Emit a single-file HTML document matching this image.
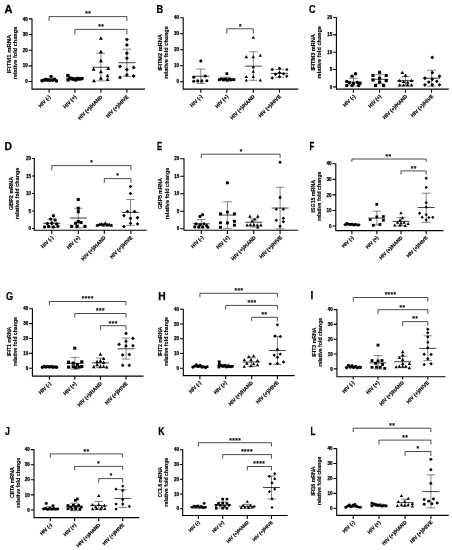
<!DOCTYPE html>
<html lang="en"><head><meta charset="utf-8"><title>Figure</title>
<style>
html,body{margin:0;padding:0;background:#fff;}
body{width:452px;height:550px;overflow:hidden;}
svg{display:block;font-family:"Liberation Sans",sans-serif;font-weight:bold;fill:#000;}
.pl{stroke:#000;stroke-width:0.25px;}
.tk{font-size:4.5px;text-anchor:end;stroke:#000;stroke-width:0.25px;}
.yl{text-anchor:middle;stroke:#000;stroke-width:0.15px;}
.xl{text-anchor:end;stroke:#000;stroke-width:0.2px;}
.st{font-size:6.5px;text-anchor:middle;stroke:#000;stroke-width:0.14px;letter-spacing:0.45px;}
.ax{fill:none;stroke:#000;stroke-width:1.1;}
.eb{fill:none;stroke:#333;stroke-width:0.6;}
.mn{fill:none;stroke:#000;stroke-width:0.75;}
.br{fill:none;stroke:#000;stroke-width:0.7;}
</style></head><body>
<svg width="452" height="550" viewBox="0 0 452 550">
<rect x="0" y="0" width="452" height="550" fill="#fff"/>
<g>
<text class="pl" font-size="10.3" transform="translate(4.4 13) scale(1.07 1)">A</text>
<text class="tk" x="27.8" y="83.1">0</text>
<text class="tk" x="27.8" y="67.45">10</text>
<text class="tk" x="27.8" y="51.8">20</text>
<text class="tk" x="27.8" y="36.15">30</text>
<text class="tk" x="27.8" y="20.5">40</text>
<path class="ax" d="M32 18.5V89.1H145M28.7 81.5H32M28.7 65.85H32M28.7 50.2H32M28.7 34.55H32M28.7 18.9H32M49.1 89.1V92.7M74.9 89.1V92.7M100.9 89.1V92.7M126.9 89.1V92.7"/>
<text class="yl" font-size="5.95" transform="translate(10.8 54) rotate(-90)">IFITM1 mRNA</text>
<text class="yl" font-size="5.6" transform="translate(17 53) rotate(-90)">relative fold change</text>
<text class="xl" font-size="5.1" transform="translate(51 97.3) rotate(-45)">HIV (-)</text>
<text class="xl" font-size="5.1" transform="translate(76.8 97.3) rotate(-45)">HIV (+)</text>
<text class="xl" font-size="5.1" transform="translate(102.8 97.3) rotate(-45)">HIV (+)/HAND</text>
<text class="xl" font-size="5.1" transform="translate(128.8 97.3) rotate(-45)">HIV (+)/HIVE</text>
<path class="eb" d="M49.1 78.37V81.19M44.8 78.37H53.4M44.8 81.19H53.4"/>
<path class="mn" d="M40.6 79.78H57.6"/>
<circle cx="42.1" cy="80.87" r="1.8"/><circle cx="43.9" cy="80.09" r="1.8"/><circle cx="45.7" cy="79.62" r="1.8"/><circle cx="47.6" cy="79.94" r="1.8"/><circle cx="49.6" cy="80.4" r="1.8"/><circle cx="51.1" cy="76.49" r="1.8"/><circle cx="52.9" cy="80.09" r="1.8"/><circle cx="54.6" cy="79.31" r="1.8"/><circle cx="56.4" cy="81.03" r="1.8"/>
<path class="eb" d="M74.9 77.27V80.09M70.6 77.27H79.2M70.6 80.09H79.2"/>
<path class="mn" d="M66.4 78.68H83.4"/>
<rect x="66.25" y="73.9" width="3.3" height="3.3"/><rect x="66.45" y="78.28" width="3.3" height="3.3"/><rect x="68.25" y="76.41" width="3.3" height="3.3"/><rect x="70.25" y="77.03" width="3.3" height="3.3"/><rect x="72.25" y="77.5" width="3.3" height="3.3"/><rect x="74.25" y="78.28" width="3.3" height="3.3"/><rect x="76.25" y="76.88" width="3.3" height="3.3"/><rect x="78.25" y="77.35" width="3.3" height="3.3"/><rect x="80.25" y="76.88" width="3.3" height="3.3"/>
<path class="eb" d="M100.9 53.33V80.87M96.6 53.33H105.2M96.6 80.87H105.2"/>
<path class="mn" d="M92.4 67.26H109.4"/>
<path d="M100.9 36.21L102.9 39.81L98.9 39.81Z"/><path d="M100.9 49.66L102.9 53.27L98.9 53.27Z"/><path d="M100.9 58.74L102.9 62.34L98.9 62.34Z"/><path d="M93.6 67.04L95.6 70.64L91.6 70.64Z"/><path d="M108.2 66.41L110.2 70.01L106.2 70.01Z"/><path d="M100.9 69.7L102.9 73.3L98.9 73.3Z"/><path d="M107.6 73.77L109.6 77.37L105.6 77.37Z"/><path d="M100.9 76.11L102.9 79.71L98.9 79.71Z"/><path d="M94 78.77L96 82.37L92 82.37Z"/><path d="M107.6 77.37L109.6 80.97L105.6 80.97Z"/>
<path class="eb" d="M126.9 49.1V76.34M122.6 49.1H131.2M122.6 76.34H131.2"/>
<path class="mn" d="M118.4 62.72H135.4"/>
<path d="M126.9 37.56L128.9 39.56L126.9 41.56L124.9 39.56Z"/><path d="M126.9 42.88L128.9 44.88L126.9 46.88L124.9 44.88Z"/><path d="M126.9 51.17L128.9 53.17L126.9 55.17L124.9 53.17Z"/><path d="M126.9 56.18L128.9 58.18L126.9 60.18L124.9 58.18Z"/><path d="M120 64.48L122 66.48L120 68.48L118 66.48Z"/><path d="M133.6 65.57L135.6 67.57L133.6 69.57L131.6 67.57Z"/><path d="M126.9 67.61L128.9 69.61L126.9 71.61L124.9 69.61Z"/><path d="M126.9 72.93L128.9 74.93L126.9 76.93L124.9 74.93Z"/><path d="M120 75.59L122 77.59L120 79.59L118 77.59Z"/><path d="M133.6 74.02L135.6 76.02L133.6 78.02L131.6 76.02Z"/>
<path class="br" d="M49.1 21V16.6H126.9V21"/>
<text class="st" x="88.2" y="16.45">**</text>
<path class="br" d="M74.9 34.4V29.4H126.9V34.4"/>
<text class="st" x="101.2" y="29.25">**</text>
</g>
<g>
<text class="pl" font-size="10.3" transform="translate(156.6 13) scale(0.9 1)">B</text>
<text class="tk" x="179" y="83.3">0</text>
<text class="tk" x="179" y="67.3">10</text>
<text class="tk" x="179" y="51.3">20</text>
<text class="tk" x="179" y="35.3">30</text>
<text class="tk" x="179" y="19.3">40</text>
<path class="ax" d="M183.2 17.3V89.1H298.3M179.9 81.7H183.2M179.9 65.7H183.2M179.9 49.7H183.2M179.9 33.7H183.2M179.9 17.7H183.2M200.8 89.1V92.7M226.8 89.1V92.7M253.3 89.1V92.7M279.5 89.1V92.7"/>
<text class="yl" font-size="5.6" transform="translate(162 52.4) rotate(-90)">IFITM2 mRNA</text>
<text class="yl" font-size="5.6" transform="translate(168.2 52.4) rotate(-90)">relative fold change</text>
<text class="xl" font-size="5.1" transform="translate(202.7 96.9) rotate(-45)">HIV (-)</text>
<text class="xl" font-size="5.1" transform="translate(228.7 96.9) rotate(-45)">HIV (+)</text>
<text class="xl" font-size="5.1" transform="translate(255.2 96.9) rotate(-45)">HIV (+)/HAND</text>
<text class="xl" font-size="5.1" transform="translate(281.4 96.9) rotate(-45)">HIV (+)/HIVE</text>
<path class="eb" d="M200.8 69.06V83.46M196.5 69.06H205.1M196.5 83.46H205.1"/>
<path class="mn" d="M192.3 76.26H209.3"/>
<circle cx="200.8" cy="60.9" r="1.55"/><circle cx="193.8" cy="77.22" r="1.55"/><circle cx="205.3" cy="75.94" r="1.55"/><circle cx="197.8" cy="80.9" r="1.55"/><circle cx="193.8" cy="81.22" r="1.55"/><circle cx="201.8" cy="80.9" r="1.55"/><circle cx="206.8" cy="80.74" r="1.55"/>
<path class="eb" d="M226.8 77.22V81.06M222.5 77.22H231.1M222.5 81.06H231.1"/>
<path class="mn" d="M218.3 79.14H235.3"/>
<rect x="225.38" y="72.28" width="2.84" height="2.84"/><rect x="217.88" y="78.36" width="2.84" height="2.84"/><rect x="219.88" y="77.4" width="2.84" height="2.84"/><rect x="221.88" y="78.36" width="2.84" height="2.84"/><rect x="223.88" y="77.72" width="2.84" height="2.84"/><rect x="225.88" y="78.68" width="2.84" height="2.84"/><rect x="227.88" y="77.88" width="2.84" height="2.84"/><rect x="229.88" y="78.36" width="2.84" height="2.84"/><rect x="232.38" y="78.2" width="2.84" height="2.84"/>
<path class="eb" d="M253.3 51.78V80.26M249 51.78H257.6M249 80.26H257.6"/>
<path class="mn" d="M244.8 66.18H261.8"/>
<path d="M253.3 35.73L255.02 38.83L251.58 38.83Z"/><path d="M246.3 55.09L248.02 58.19L244.58 58.19Z"/><path d="M260.3 53.65L262.02 56.75L258.58 56.75Z"/><path d="M253.3 55.09L255.02 58.19L251.58 58.19Z"/><path d="M253.3 65.17L255.02 68.27L251.58 68.27Z"/><path d="M253.3 69.65L255.02 72.75L251.58 72.75Z"/><path d="M246.3 74.93L248.02 78.03L244.58 78.03Z"/><path d="M253.3 74.93L255.02 78.03L251.58 78.03Z"/><path d="M246.3 78.45L248.02 81.55L244.58 81.55Z"/><path d="M260.3 78.45L262.02 81.55L258.58 81.55Z"/>
<path class="eb" d="M279.5 69.54V77.22M275.2 69.54H283.8M275.2 77.22H283.8"/>
<path class="mn" d="M271 73.38H288"/>
<path d="M279.5 66.54L281.22 68.26L279.5 69.98L277.78 68.26Z"/><path d="M272.2 67.82L273.92 69.54L272.2 71.26L270.48 69.54Z"/><path d="M286.8 67.82L288.52 69.54L286.8 71.26L285.08 69.54Z"/><path d="M275.5 72.46L277.22 74.18L275.5 75.9L273.78 74.18Z"/><path d="M283.5 71.98L285.22 73.7L283.5 75.42L281.78 73.7Z"/><path d="M279.5 71.02L281.22 72.74L279.5 74.46L277.78 72.74Z"/><path d="M272.2 76.3L273.92 78.02L272.2 79.74L270.48 78.02Z"/><path d="M279.5 75.02L281.22 76.74L279.5 78.46L277.78 76.74Z"/><path d="M286.8 74.54L288.52 76.26L286.8 77.98L285.08 76.26Z"/>
<path class="br" d="M226.8 33.6V28.8H253.3V33.6"/>
<text class="st" x="240.4" y="28.65">*</text>
</g>
<g>
<text class="pl" font-size="10.3" transform="translate(309 13) scale(0.88 1)">C</text>
<text class="tk" x="332.2" y="88.5">0</text>
<text class="tk" x="332.2" y="71.15">5</text>
<text class="tk" x="332.2" y="53.8">10</text>
<text class="tk" x="332.2" y="36.45">15</text>
<text class="tk" x="332.2" y="19.1">20</text>
<path class="ax" d="M336.4 17.1V89.1H448.8M333.1 86.9H336.4M333.1 69.55H336.4M333.1 52.2H336.4M333.1 34.85H336.4M333.1 17.5H336.4M353.4 89.1V92.7M379.6 89.1V92.7M405.5 89.1V92.7M431.5 89.1V92.7"/>
<text class="yl" font-size="5.6" transform="translate(315.2 52.3) rotate(-90)">IFITM3 mRNA</text>
<text class="yl" font-size="5.6" transform="translate(321.4 52.3) rotate(-90)">relative fold change</text>
<text class="xl" font-size="5.1" transform="translate(355.6 96.7) rotate(-45)">HIV (-)</text>
<text class="xl" font-size="5.1" transform="translate(381.8 96.7) rotate(-45)">HIV (+)</text>
<text class="xl" font-size="5.1" transform="translate(407.7 96.7) rotate(-45)">HIV (+)/HAND</text>
<text class="xl" font-size="5.1" transform="translate(433.7 96.7) rotate(-45)">HIV (+)/HIVE</text>
<path class="eb" d="M353.4 78.23V85.86M349.1 78.23H357.7M349.1 85.86H357.7"/>
<path class="mn" d="M344.9 82.04H361.9"/>
<circle cx="355.5" cy="73.71" r="1.71"/><circle cx="352.1" cy="76.14" r="1.71"/><circle cx="346.8" cy="81.35" r="1.71"/><circle cx="349.4" cy="82.74" r="1.71"/><circle cx="353.4" cy="83.43" r="1.71"/><circle cx="357.4" cy="82.39" r="1.71"/><circle cx="360" cy="83.43" r="1.71"/><circle cx="346.8" cy="85.51" r="1.71"/><circle cx="352.1" cy="85.51" r="1.71"/><circle cx="358.7" cy="85.51" r="1.71"/>
<path class="eb" d="M379.6 74.76V83.78M375.3 74.76H383.9M375.3 83.78H383.9"/>
<path class="mn" d="M371.1 79.27H388.1"/>
<rect x="378.03" y="70.76" width="3.13" height="3.13"/><rect x="371.43" y="73.88" width="3.13" height="3.13"/><rect x="384.63" y="73.88" width="3.13" height="3.13"/><rect x="378.03" y="76.66" width="3.13" height="3.13"/><rect x="371.43" y="78.39" width="3.13" height="3.13"/><rect x="384.63" y="79.09" width="3.13" height="3.13"/><rect x="378.03" y="80.47" width="3.13" height="3.13"/><rect x="374.03" y="83.94" width="3.13" height="3.13"/><rect x="382.03" y="83.94" width="3.13" height="3.13"/>
<path class="eb" d="M405.5 76.49V85.17M401.2 76.49H409.8M401.2 85.17H409.8"/>
<path class="mn" d="M397 80.65H414"/>
<path d="M402.3 70.68L404.2 74.1L400.4 74.1Z"/><path d="M405.5 73.45L407.4 76.87L403.6 76.87Z"/><path d="M399.7 78.66L401.6 82.08L397.8 82.08Z"/><path d="M411.5 78.66L413.4 82.08L409.6 82.08Z"/><path d="M403.6 79.7L405.5 83.12L401.7 83.12Z"/><path d="M407.6 80.39L409.5 83.81L405.7 83.81Z"/><path d="M399.7 83.17L401.6 86.59L397.8 86.59Z"/><path d="M403.6 83.17L405.5 86.59L401.7 86.59Z"/><path d="M407.6 83.17L409.5 86.59L405.7 86.59Z"/><path d="M411.5 83.17L413.4 86.59L409.6 86.59Z"/>
<path class="eb" d="M431.5 70.24V86.21M427.2 70.24H435.8M427.2 86.21H435.8"/>
<path class="mn" d="M423 78.23H440"/>
<path d="M432.3 55.51L434.2 57.41L432.3 59.3L430.4 57.41Z"/><path d="M432.3 70.77L434.2 72.67L432.3 74.57L430.4 72.67Z"/><path d="M439.5 74.24L441.4 76.14L439.5 78.04L437.6 76.14Z"/><path d="M424.9 76.33L426.8 78.23L424.9 80.13L423 78.23Z"/><path d="M432.3 77.37L434.2 79.27L432.3 81.17L430.4 79.27Z"/><path d="M436.8 79.45L438.7 81.35L436.8 83.25L434.9 81.35Z"/><path d="M428.8 80.14L430.7 82.04L428.8 83.94L426.9 82.04Z"/><path d="M424.9 82.92L426.8 84.82L424.9 86.72L423 84.82Z"/><path d="M432.3 82.92L434.2 84.82L432.3 86.72L430.4 84.82Z"/><path d="M439.5 82.92L441.4 84.82L439.5 86.72L437.6 84.82Z"/>
</g>
<g>
<text class="pl" font-size="10.3" transform="translate(4.6 150.2) scale(1 1)">D</text>
<text class="tk" x="31" y="230.1">0</text>
<text class="tk" x="31" y="212.6">5</text>
<text class="tk" x="31" y="195.1">10</text>
<text class="tk" x="31" y="177.6">15</text>
<text class="tk" x="31" y="160.1">20</text>
<path class="ax" d="M34.3 158.1V230.3H146.8M31.9 228.5H34.3M31.9 211H34.3M31.9 193.5H34.3M31.9 176H34.3M31.9 158.5H34.3M51.8 230.3V233.9M78.3 230.3V233.9M104.3 230.3V233.9M130.9 230.3V233.9"/>
<text class="yl" font-size="5.5" transform="translate(13.1 193.4) rotate(-90)">GBP2 mRNA</text>
<text class="yl" font-size="5.5" transform="translate(19.3 193.4) rotate(-90)">relative fold change</text>
<text class="xl" font-size="5.1" transform="translate(53.7 238) rotate(-45)">HIV (-)</text>
<text class="xl" font-size="5.1" transform="translate(80.2 238) rotate(-45)">HIV (+)</text>
<text class="xl" font-size="5.1" transform="translate(106.2 238) rotate(-45)">HIV (+)/HAND</text>
<text class="xl" font-size="5.1" transform="translate(132.8 238) rotate(-45)">HIV (+)/HIVE</text>
<path class="eb" d="M51.8 219.05V227.45M47.5 219.05H56.1M47.5 227.45H56.1"/>
<path class="mn" d="M43.3 223.25H60.3"/>
<circle cx="53.4" cy="215.72" r="1.67"/><circle cx="50.7" cy="219.05" r="1.67"/><circle cx="55.2" cy="220.1" r="1.67"/><circle cx="47.3" cy="223.6" r="1.67"/><circle cx="51.8" cy="223.25" r="1.67"/><circle cx="56.6" cy="223.95" r="1.67"/><circle cx="44.6" cy="226.93" r="1.67"/><circle cx="48.6" cy="226.4" r="1.67"/><circle cx="53.4" cy="226.93" r="1.67"/><circle cx="57.9" cy="226.4" r="1.67"/>
<path class="eb" d="M78.3 208.2V227.8M74 208.2H82.6M74 227.8H82.6"/>
<path class="mn" d="M69.8 218H86.8"/>
<rect x="76.77" y="197.92" width="3.07" height="3.07"/><rect x="76.77" y="206.67" width="3.07" height="3.07"/><rect x="76.77" y="210.17" width="3.07" height="3.07"/><rect x="74.07" y="221.72" width="3.07" height="3.07"/><rect x="79.47" y="221.02" width="3.07" height="3.07"/><rect x="76.77" y="219.97" width="3.07" height="3.07"/><rect x="70.17" y="224.87" width="3.07" height="3.07"/><rect x="75.47" y="224.87" width="3.07" height="3.07"/><rect x="83.37" y="224.87" width="3.07" height="3.07"/>
<path class="eb" d="M104.3 223.6V225.7M100 223.6H108.6M100 225.7H108.6"/>
<path class="mn" d="M95.8 224.65H112.8"/>
<path d="M97.3 223.4L99.16 226.75L95.44 226.75Z"/><path d="M99.3 222.7L101.16 226.05L97.44 226.05Z"/><path d="M101.3 222L103.16 225.34L99.44 225.34Z"/><path d="M103.3 223.05L105.16 226.4L101.44 226.4Z"/><path d="M105.3 221.3L107.16 224.65L103.44 224.65Z"/><path d="M107.3 223.05L109.16 226.4L105.44 226.4Z"/><path d="M109.3 222.7L111.16 226.05L107.44 226.05Z"/><path d="M111.3 223.4L113.16 226.75L109.44 226.75Z"/>
<path class="eb" d="M130.5 199.45V225.35M126.2 199.45H134.8M126.2 225.35H134.8"/>
<path class="mn" d="M122 212.4H139"/>
<path d="M130.5 184.64L132.36 186.5L130.5 188.36L128.64 186.5Z"/><path d="M130.5 191.64L132.36 193.5L130.5 195.36L128.64 193.5Z"/><path d="M127.5 209.63L129.36 211.49L127.5 213.35L125.64 211.49Z"/><path d="M134.5 209.63L136.36 211.49L134.5 213.35L132.64 211.49Z"/><path d="M123.9 213.69L125.76 215.55L123.9 217.41L122.04 215.55Z"/><path d="M130.5 216.49L132.36 218.35L130.5 220.21L128.64 218.35Z"/><path d="M137.5 215.79L139.36 217.65L137.5 219.51L135.64 217.65Z"/><path d="M130.5 221.39L132.36 223.25L130.5 225.11L128.64 223.25Z"/><path d="M137.5 222.09L139.36 223.95L137.5 225.81L135.64 223.95Z"/><path d="M123.9 224.64L125.76 226.5L123.9 228.37L122.04 226.5Z"/>
<path class="br" d="M51.8 170.2V165.6H130.9V170.2"/>
<text class="st" x="91.8" y="165.45">*</text>
<path class="br" d="M104.3 183V178.6H130.9V183"/>
<text class="st" x="117.8" y="178.45">*</text>
</g>
<g>
<text class="pl" font-size="10.3" transform="translate(157 150.2) scale(0.76 1)">E</text>
<text class="tk" x="179.2" y="230.3">0</text>
<text class="tk" x="179.2" y="212.8">5</text>
<text class="tk" x="179.2" y="195.3">10</text>
<text class="tk" x="179.2" y="177.8">15</text>
<text class="tk" x="179.2" y="160.3">20</text>
<path class="ax" d="M184 158.3V230.3H298.2M180.1 228.7H184M180.1 211.2H184M180.1 193.7H184M180.1 176.2H184M180.1 158.7H184M201.3 230.3V233.9M227.4 230.3V233.9M253.8 230.3V233.9M280.1 230.3V233.9"/>
<text class="yl" font-size="5.1" transform="translate(161.6 193.5) rotate(-90)">GBP5 mRNA</text>
<text class="yl" font-size="5.5" transform="translate(169 193.5) rotate(-90)">relative fold change</text>
<text class="xl" font-size="5.1" transform="translate(203.7 237.8) rotate(-45)">HIV (-)</text>
<text class="xl" font-size="5.1" transform="translate(229.8 237.8) rotate(-45)">HIV (+)</text>
<text class="xl" font-size="5.1" transform="translate(256.2 237.8) rotate(-45)">HIV (+)/HAND</text>
<text class="xl" font-size="5.1" transform="translate(282.5 237.8) rotate(-45)">HIV (+)/HIVE</text>
<path class="eb" d="M201.3 219.6V228M197 219.6H205.6M197 228H205.6"/>
<path class="mn" d="M192.8 223.8H209.8"/>
<circle cx="202.6" cy="214.7" r="1.58"/><circle cx="200" cy="216.45" r="1.58"/><circle cx="196" cy="223.8" r="1.58"/><circle cx="200" cy="224.85" r="1.58"/><circle cx="204" cy="223.8" r="1.58"/><circle cx="206.6" cy="225.55" r="1.58"/><circle cx="194.7" cy="226.95" r="1.58"/><circle cx="198.6" cy="226.95" r="1.58"/><circle cx="202.6" cy="226.95" r="1.58"/><circle cx="207.9" cy="227.3" r="1.58"/>
<path class="eb" d="M227.4 201.75V228.35M223.1 201.75H231.7M223.1 228.35H231.7"/>
<path class="mn" d="M218.9 215.05H235.9"/>
<rect x="225.95" y="181.4" width="2.9" height="2.9"/><rect x="225.95" y="210.62" width="2.9" height="2.9"/><rect x="219.05" y="212.37" width="2.9" height="2.9"/><rect x="232.95" y="212.37" width="2.9" height="2.9"/><rect x="219.05" y="221.3" width="2.9" height="2.9"/><rect x="225.95" y="221.47" width="2.9" height="2.9"/><rect x="232.95" y="219.9" width="2.9" height="2.9"/><rect x="219.05" y="225.85" width="2.9" height="2.9"/><rect x="232.95" y="223.75" width="2.9" height="2.9"/>
<path class="eb" d="M253.8 218.72V226.95M249.5 218.72H258.1M249.5 226.95H258.1"/>
<path class="mn" d="M245.3 222.22H262.3"/>
<path d="M249.9 214.6L251.66 217.77L248.14 217.77Z"/><path d="M257.8 214.6L259.56 217.77L256.04 217.77Z"/><path d="M254.8 217.4L256.56 220.57L253.04 220.57Z"/><path d="M252.1 219.15L253.86 222.32L250.34 222.32Z"/><path d="M247.1 223.35L248.86 226.52L245.34 226.52Z"/><path d="M250.4 223L252.16 226.17L248.64 226.17Z"/><path d="M253.8 223L255.56 226.17L252.04 226.17Z"/><path d="M257.4 223.35L259.16 226.52L255.64 226.52Z"/><path d="M260.8 223.35L262.56 226.52L259.04 226.52Z"/><path d="M257.8 225.45L259.56 228.62L256.04 228.62Z"/>
<path class="eb" d="M280.1 187.22V228.88M275.8 187.22H284.4M275.8 228.88H284.4"/>
<path class="mn" d="M271.6 208.05H288.6"/>
<path d="M280.1 160.44L281.86 162.2L280.1 163.96L278.34 162.2Z"/><path d="M280.1 195.62L281.86 197.38L280.1 199.13L278.34 197.38Z"/><path d="M276.3 207.55L278.06 209.31L276.3 211.07L274.54 209.31Z"/><path d="M283.4 207.55L285.16 209.31L283.4 211.07L281.64 209.31Z"/><path d="M276.3 218.54L278.06 220.3L276.3 222.06L274.54 220.3Z"/><path d="M283.4 216.44L285.16 218.2L283.4 219.96L281.64 218.2Z"/><path d="M283.4 219.94L285.16 221.7L283.4 223.46L281.64 221.7Z"/><path d="M280.1 224.56L281.86 226.32L280.1 228.08L278.34 226.32Z"/>
<path class="br" d="M201.3 158.2V154.2H280.1V158.2"/>
<text class="st" x="241.2" y="154.05">*</text>
</g>
<g>
<text class="pl" font-size="10.3" transform="translate(309.6 150.2) scale(0.76 1)">F</text>
<text class="tk" x="331.6" y="227.6">0</text>
<text class="tk" x="331.6" y="212.05">10</text>
<text class="tk" x="331.6" y="196.5">20</text>
<text class="tk" x="331.6" y="180.95">30</text>
<text class="tk" x="331.6" y="165.4">40</text>
<path class="ax" d="M335.8 163.4V230.6H443.4M332.5 226H335.8M332.5 210.45H335.8M332.5 194.9H335.8M332.5 179.35H335.8M332.5 163.8H335.8M351.9 230.6V234.2M376.8 230.6V234.2M401 230.6V234.2M426.2 230.6V234.2"/>
<text class="yl" font-size="5.25" transform="translate(314.6 196.2) rotate(-90)">ISG15 mRNA</text>
<text class="yl" font-size="5.25" transform="translate(320.8 196.2) rotate(-90)">relative fold change</text>
<text class="xl" font-size="4.8" transform="translate(353.8 238.1) rotate(-45)">HIV (-)</text>
<text class="xl" font-size="4.8" transform="translate(378.7 238.1) rotate(-45)">HIV (+)</text>
<text class="xl" font-size="4.8" transform="translate(402.9 238.1) rotate(-45)">HIV (+)/HAND</text>
<text class="xl" font-size="4.8" transform="translate(428.1 238.1) rotate(-45)">HIV (+)/HIVE</text>
<path class="eb" d="M351.9 224.13V225.07M347.6 224.13H356.2M347.6 225.07H356.2"/>
<path class="mn" d="M343.4 224.6H360.4"/>
<circle cx="345.4" cy="224.76" r="1.49"/><circle cx="346.9" cy="223.51" r="1.49"/><circle cx="348.6" cy="224.13" r="1.49"/><circle cx="350.3" cy="224.6" r="1.49"/><circle cx="351.9" cy="224.29" r="1.49"/><circle cx="353.7" cy="224.91" r="1.49"/><circle cx="355.4" cy="224.6" r="1.49"/><circle cx="357.1" cy="225.07" r="1.49"/><circle cx="358.7" cy="224.91" r="1.49"/>
<path class="eb" d="M376.8 211.23V224.91M372.5 211.23H381.1M372.5 224.91H381.1"/>
<path class="mn" d="M368.3 218.07H385.3"/>
<rect x="375.43" y="203.02" width="2.74" height="2.74"/><rect x="375.43" y="215.53" width="2.74" height="2.74"/><rect x="382.03" y="215.15" width="2.74" height="2.74"/><rect x="368.83" y="218.26" width="2.74" height="2.74"/><rect x="382.03" y="218.88" width="2.74" height="2.74"/><rect x="378.53" y="223.08" width="2.74" height="2.74"/><rect x="372.03" y="223.93" width="2.74" height="2.74"/>
<path class="eb" d="M401 217.6V225.69M396.7 217.6H405.3M396.7 225.69H405.3"/>
<path class="mn" d="M392.5 221.41H409.5"/>
<path d="M401 211.35L402.66 214.34L399.34 214.34Z"/><path d="M402.5 216.33L404.16 219.31L400.84 219.31Z"/><path d="M399.9 218.58L401.56 221.57L398.24 221.57Z"/><path d="M397.6 220.84L399.26 223.82L395.94 223.82Z"/><path d="M401 221.61L402.66 224.6L399.34 224.6Z"/><path d="M404.1 220.84L405.76 223.82L402.44 223.82Z"/><path d="M408.1 222.08L409.76 225.07L406.44 225.07Z"/><path d="M394.8 223.53L396.46 226.51L393.14 226.51Z"/><path d="M399.9 223.48L401.56 226.47L398.24 226.47Z"/><path d="M405.3 223.95L406.96 226.93L403.64 226.93Z"/>
<path class="eb" d="M426.2 193.19V222.42M421.9 193.19H430.5M421.9 222.42H430.5"/>
<path class="mn" d="M417.7 207.5H434.7"/>
<path d="M426.2 176.6L427.86 178.26L426.2 179.92L424.54 178.26Z"/><path d="M426.2 185.78L427.86 187.44L426.2 189.1L424.54 187.44Z"/><path d="M426.2 201.02L427.86 202.68L426.2 204.34L424.54 202.68Z"/><path d="M426.2 205.52L427.86 207.18L426.2 208.84L424.54 207.18Z"/><path d="M419.6 211.59L421.26 213.25L419.6 214.91L417.94 213.25Z"/><path d="M426.2 212.99L427.86 214.65L426.2 216.31L424.54 214.65Z"/><path d="M422.2 215.63L423.86 217.29L422.2 218.95L420.54 217.29Z"/><path d="M428.9 215.94L430.56 217.6L428.9 219.26L427.24 217.6Z"/><path d="M432.8 215.63L434.46 217.29L432.8 218.95L431.14 217.29Z"/><path d="M426.2 218.28L427.86 219.94L426.2 221.6L424.54 219.94Z"/>
<path class="br" d="M351.9 161.8V159H426.2V161.8"/>
<text class="st" x="388.5" y="158.85">**</text>
<path class="br" d="M401 174.5V170.9H426.2V174.5"/>
<text class="st" x="413.7" y="170.75">**</text>
</g>
<g>
<text class="pl" font-size="10.3" transform="translate(6 299.7) scale(0.9 1)">G</text>
<text class="tk" x="28.2" y="369.9">0</text>
<text class="tk" x="28.2" y="355">10</text>
<text class="tk" x="28.2" y="340.1">20</text>
<text class="tk" x="28.2" y="325.2">30</text>
<text class="tk" x="28.2" y="310.3">40</text>
<path class="ax" d="M32.4 308.3V376.1H143.5M29.1 368.3H32.4M29.1 353.4H32.4M29.1 338.5H32.4M29.1 323.6H32.4M29.1 308.7H32.4M49.4 376.1V379.7M74.8 376.1V379.7M100.4 376.1V379.7M126 376.1V379.7"/>
<text class="yl" font-size="5.2" transform="translate(11.2 341.4) rotate(-90)">IFIT1 mRNA</text>
<text class="yl" font-size="5.2" transform="translate(17.4 341.4) rotate(-90)">relative fold change</text>
<text class="xl" font-size="5.1" transform="translate(51.4 384) rotate(-45)">HIV (-)</text>
<text class="xl" font-size="5.1" transform="translate(76.8 384) rotate(-45)">HIV (+)</text>
<text class="xl" font-size="5.1" transform="translate(102.4 384) rotate(-45)">HIV (+)/HAND</text>
<text class="xl" font-size="5.1" transform="translate(128 384) rotate(-45)">HIV (+)/HIVE</text>
<path class="eb" d="M49.4 366.51V367.41M45.1 366.51H53.7M45.1 367.41H53.7"/>
<path class="mn" d="M40.9 366.96H57.9"/>
<circle cx="42.4" cy="367.26" r="1.67"/><circle cx="44.2" cy="366.51" r="1.67"/><circle cx="46" cy="366.96" r="1.67"/><circle cx="47.8" cy="366.36" r="1.67"/><circle cx="49.6" cy="367.11" r="1.67"/><circle cx="51.4" cy="366.51" r="1.67"/><circle cx="53.2" cy="367.26" r="1.67"/><circle cx="55" cy="366.81" r="1.67"/><circle cx="56.6" cy="367.26" r="1.67"/>
<path class="eb" d="M74.8 357.42V369.12M70.5 357.42H79.1M70.5 369.12H79.1"/>
<path class="mn" d="M66.3 363.38H83.3"/>
<rect x="73.27" y="346.65" width="3.07" height="3.07"/><rect x="67.07" y="360.66" width="3.07" height="3.07"/><rect x="80.27" y="360.28" width="3.07" height="3.07"/><rect x="71.67" y="361.63" width="3.07" height="3.07"/><rect x="75.87" y="362.89" width="3.07" height="3.07"/><rect x="67.07" y="365.57" width="3.07" height="3.07"/><rect x="71.67" y="365.2" width="3.07" height="3.07"/><rect x="74.37" y="366.02" width="3.07" height="3.07"/><rect x="77.67" y="365.57" width="3.07" height="3.07"/><rect x="80.27" y="364.98" width="3.07" height="3.07"/>
<path class="eb" d="M100.4 358.17V367.56M96.1 358.17H104.7M96.1 367.56H104.7"/>
<path class="mn" d="M91.9 362.86H108.9"/>
<path d="M100.4 352.34L102.26 355.69L98.54 355.69Z"/><path d="M103.6 356.66L105.46 360.01L101.74 360.01Z"/><path d="M97.1 359.79L98.96 363.14L95.24 363.14Z"/><path d="M100.4 359.05L102.26 362.39L98.54 362.39Z"/><path d="M103.6 360.54L105.46 363.88L101.74 363.88Z"/><path d="M93.8 364.86L95.66 368.2L91.94 368.2Z"/><path d="M97.1 362.92L98.96 366.27L95.24 366.27Z"/><path d="M100.4 364.86L102.26 368.2L98.54 368.2Z"/><path d="M103.6 364.41L105.46 367.76L101.74 367.76Z"/><path d="M106.7 365.16L108.56 368.5L104.84 368.5Z"/>
<path class="eb" d="M126 338.05V359.06M121.7 338.05H130.3M121.7 359.06H130.3"/>
<path class="mn" d="M117.5 348.78H134.5"/>
<path d="M126 331.57L127.86 333.43L126 335.29L124.14 333.43Z"/><path d="M132.9 336.57L134.76 338.43L132.9 340.29L131.04 338.43Z"/><path d="M126 339.47L127.86 341.33L126 343.19L124.14 341.33Z"/><path d="M119.1 342.6L120.96 344.46L119.1 346.32L117.24 344.46Z"/><path d="M126 344.09L127.86 345.95L126 347.81L124.14 345.95Z"/><path d="M132.9 343.79L134.76 345.65L132.9 347.51L131.04 345.65Z"/><path d="M122.7 353.1L124.56 354.96L122.7 356.82L120.84 354.96Z"/><path d="M129.3 352.66L131.16 354.52L129.3 356.38L127.44 354.52Z"/><path d="M122.7 363.46L124.56 365.32L122.7 367.18L120.84 365.32Z"/><path d="M129.3 363.46L131.16 365.32L129.3 367.18L127.44 365.32Z"/>
<path class="br" d="M49.4 305.4V301.5H126V305.4"/>
<text class="st" x="87.8" y="301.35">****</text>
<path class="br" d="M74.8 317.6V313.5H126V317.6"/>
<text class="st" x="100.6" y="313.35">***</text>
<path class="br" d="M100.4 329.8V325.7H126V329.8"/>
<text class="st" x="113.3" y="325.55">***</text>
</g>
<g>
<text class="pl" font-size="10.3" transform="translate(158.2 299.6) scale(1 1)">H</text>
<text class="tk" x="179.1" y="369.9">0</text>
<text class="tk" x="179.1" y="355.13">10</text>
<text class="tk" x="179.1" y="340.35">20</text>
<text class="tk" x="179.1" y="325.58">30</text>
<text class="tk" x="179.1" y="310.8">40</text>
<path class="ax" d="M183.3 308.8V375.6H294.6M180 368.3H183.3M180 353.53H183.3M180 338.75H183.3M180 323.98H183.3M180 309.2H183.3M199.9 375.6V379.2M225.7 375.6V379.2M251.7 375.6V379.2M277.4 375.6V379.2"/>
<text class="yl" font-size="5.2" transform="translate(161.8 341.4) rotate(-90)">IFIT2 mRNA</text>
<text class="yl" font-size="5.2" transform="translate(168 341.4) rotate(-90)">relative fold change</text>
<text class="xl" font-size="5.1" transform="translate(201.5 383.1) rotate(-45)">HIV (-)</text>
<text class="xl" font-size="5.1" transform="translate(227.3 383.1) rotate(-45)">HIV (+)</text>
<text class="xl" font-size="5.1" transform="translate(253.3 383.1) rotate(-45)">HIV (+)/HAND</text>
<text class="xl" font-size="5.1" transform="translate(279 383.1) rotate(-45)">HIV (+)/HIVE</text>
<path class="eb" d="M199.9 365.79V367.27M195.6 365.79H204.2M195.6 367.27H204.2"/>
<path class="mn" d="M191.4 366.53H208.4"/>
<circle cx="192.9" cy="367.12" r="1.55"/><circle cx="194.7" cy="366.08" r="1.55"/><circle cx="196.5" cy="364.9" r="1.55"/><circle cx="198.3" cy="366.53" r="1.55"/><circle cx="200.1" cy="365.35" r="1.55"/><circle cx="201.9" cy="367.12" r="1.55"/><circle cx="203.7" cy="366.82" r="1.55"/><circle cx="205.5" cy="367.41" r="1.55"/><circle cx="207.1" cy="366.82" r="1.55"/>
<path class="eb" d="M225.7 364.31V367.27M221.4 364.31H230M221.4 367.27H230"/>
<path class="mn" d="M217.2 365.79H234.2"/>
<rect x="217.78" y="360.38" width="2.84" height="2.84"/><rect x="217.98" y="363.04" width="2.84" height="2.84"/><rect x="219.78" y="364.22" width="2.84" height="2.84"/><rect x="221.58" y="364.81" width="2.84" height="2.84"/><rect x="223.38" y="364.22" width="2.84" height="2.84"/><rect x="225.18" y="365.4" width="2.84" height="2.84"/><rect x="226.98" y="364.81" width="2.84" height="2.84"/><rect x="228.78" y="365.26" width="2.84" height="2.84"/><rect x="230.78" y="364.96" width="2.84" height="2.84"/><rect x="217.48" y="365.55" width="2.84" height="2.84"/>
<path class="eb" d="M251.7 357.81V366.53M247.4 357.81H256M247.4 366.53H256"/>
<path class="mn" d="M243.2 362.09H260.2"/>
<path d="M248.8 354.97L250.52 358.07L247.08 358.07Z"/><path d="M253.6 354.23L255.32 357.33L251.88 357.33Z"/><path d="M244.3 358.07L246.02 361.17L242.58 361.17Z"/><path d="M250.9 358.07L252.62 361.17L249.18 361.17Z"/><path d="M257.5 358.81L259.22 361.91L255.78 361.91Z"/><path d="M246.9 361.62L248.62 364.71L245.18 364.71Z"/><path d="M253.6 362.21L255.32 365.31L251.88 365.31Z"/><path d="M244.3 364.72L246.02 367.82L242.58 367.82Z"/><path d="M250.9 364.13L252.62 367.23L249.18 367.23Z"/><path d="M257.5 363.1L259.22 366.19L255.78 366.19Z"/>
<path class="eb" d="M277.4 336.68V364.46M273.1 336.68H281.7M273.1 364.46H281.7"/>
<path class="mn" d="M268.9 350.57H285.9"/>
<path d="M277.4 323.14L279.12 324.86L277.4 326.58L275.68 324.86Z"/><path d="M275 334.37L276.72 336.09L275 337.81L273.28 336.09Z"/><path d="M280.3 334.81L282.02 336.53L280.3 338.25L278.58 336.53Z"/><path d="M277.4 347.67L279.12 349.39L277.4 351.11L275.68 349.39Z"/><path d="M274.2 353.43L275.92 355.15L274.2 356.87L272.48 355.15Z"/><path d="M280.3 352.4L282.02 354.12L280.3 355.84L278.58 354.12Z"/><path d="M277.4 355.65L279.12 357.37L277.4 359.09L275.68 357.37Z"/><path d="M270.2 362.15L271.92 363.87L270.2 365.59L268.48 363.87Z"/><path d="M277.4 361.7L279.12 363.42L277.4 365.14L275.68 363.42Z"/><path d="M283.5 360.37L285.22 362.09L283.5 363.81L281.78 362.09Z"/>
<path class="br" d="M199.9 297.2V293.3H277.4V297.2"/>
<text class="st" x="239.1" y="293.15">***</text>
<path class="br" d="M225.7 309.4V305.4H277.4V309.4"/>
<text class="st" x="251.9" y="305.25">***</text>
<path class="br" d="M251.7 321.2V317.3H277.4V321.2"/>
<text class="st" x="264.6" y="317.15">**</text>
</g>
<g>
<text class="pl" font-size="10.3" transform="translate(310.6 299.4) scale(1 1)">I</text>
<text class="tk" x="332.75" y="370.5">0</text>
<text class="tk" x="332.75" y="355.68">10</text>
<text class="tk" x="332.75" y="340.85">20</text>
<text class="tk" x="332.75" y="326.02">30</text>
<text class="tk" x="332.75" y="311.2">40</text>
<path class="ax" d="M336.95 309.2V376.7H445.5M333.65 368.9H336.95M333.65 354.07H336.95M333.65 339.25H336.95M333.65 324.42H336.95M333.65 309.6H336.95M353.2 376.7V379.5M378 376.7V379.5M402.7 376.7V379.5M427.8 376.7V379.5"/>
<text class="yl" font-size="5.2" transform="translate(315.75 342.15) rotate(-90)">IFIT3 mRNA</text>
<text class="yl" font-size="5.2" transform="translate(321.95 342.15) rotate(-90)">relative fold change</text>
<text class="xl" font-size="5.1" transform="translate(354.8 383) rotate(-45)">HIV (-)</text>
<text class="xl" font-size="5.1" transform="translate(379.6 383) rotate(-45)">HIV (+)</text>
<text class="xl" font-size="5.1" transform="translate(404.3 383) rotate(-45)">HIV (+)/HAND</text>
<text class="xl" font-size="5.1" transform="translate(429.4 383) rotate(-45)">HIV (+)/HIVE</text>
<path class="eb" d="M353.2 366.38V367.86M348.9 366.38H357.5M348.9 367.86H357.5"/>
<path class="mn" d="M344.7 367.12H361.7"/>
<circle cx="346.6" cy="367.71" r="1.55"/><circle cx="348.4" cy="365.34" r="1.55"/><circle cx="350.2" cy="367.12" r="1.55"/><circle cx="352" cy="365.64" r="1.55"/><circle cx="353.8" cy="367.57" r="1.55"/><circle cx="355.6" cy="366.23" r="1.55"/><circle cx="357.4" cy="367.86" r="1.55"/><circle cx="359.2" cy="367.12" r="1.55"/><circle cx="360.4" cy="367.42" r="1.55"/>
<path class="eb" d="M378 355.48V369.05M373.7 355.48H382.3M373.7 369.05H382.3"/>
<path class="mn" d="M369.5 362.9H386.5"/>
<rect x="376.58" y="343.69" width="2.84" height="2.84"/><rect x="370.58" y="359.18" width="2.84" height="2.84"/><rect x="376.58" y="359.48" width="2.84" height="2.84"/><rect x="380.58" y="359.18" width="2.84" height="2.84"/><rect x="374.18" y="361.85" width="2.84" height="2.84"/><rect x="381.18" y="363.03" width="2.84" height="2.84"/><rect x="370.58" y="365.85" width="2.84" height="2.84"/><rect x="375.08" y="365.7" width="2.84" height="2.84"/><rect x="378.78" y="365.85" width="2.84" height="2.84"/><rect x="383.28" y="366.96" width="2.84" height="2.84"/>
<path class="eb" d="M402.7 356.37V367.71M398.4 356.37H407M398.4 367.71H407"/>
<path class="mn" d="M394.2 361.78H411.2"/>
<path d="M402.7 350.05L404.42 353.14L400.98 353.14Z"/><path d="M402.7 353.31L404.42 356.4L400.98 356.4Z"/><path d="M399.4 355.98L401.12 359.07L397.68 359.07Z"/><path d="M402.7 357.83L404.42 360.92L400.98 360.92Z"/><path d="M402.7 361.83L404.42 364.93L400.98 364.93Z"/><path d="M409.4 361.83L411.12 364.93L407.68 364.93Z"/><path d="M396.2 365.17L397.92 368.26L394.48 368.26Z"/><path d="M399.4 364.57L401.12 367.67L397.68 367.67Z"/><path d="M402.7 364.57L404.42 367.67L400.98 367.67Z"/><path d="M405.8 364.57L407.52 367.67L404.08 367.67Z"/><path d="M409.4 366.06L411.12 369.15L407.68 369.15Z"/>
<path class="eb" d="M427.8 335.77V360.6M423.5 335.77H432.1M423.5 360.6H432.1"/>
<path class="mn" d="M419.3 348.37H436.3"/>
<path d="M427.8 327.45L429.52 329.17L427.8 330.89L426.08 329.17Z"/><path d="M427.8 331.01L429.52 332.73L427.8 334.45L426.08 332.73Z"/><path d="M427.8 335.16L429.52 336.88L427.8 338.6L426.08 336.88Z"/><path d="M427.8 340.64L429.52 342.36L427.8 344.08L426.08 342.36Z"/><path d="M427.8 346.13L429.52 347.85L427.8 349.57L426.08 347.85Z"/><path d="M424.2 352.5L425.92 354.22L424.2 355.94L422.48 354.22Z"/><path d="M431.1 352.8L432.82 354.52L431.1 356.24L429.38 354.52Z"/><path d="M427.8 356.95L429.52 358.67L427.8 360.39L426.08 358.67Z"/><path d="M424.2 362.88L425.92 364.6L424.2 366.32L422.48 364.6Z"/><path d="M431.1 361.99L432.82 363.71L431.1 365.43L429.38 363.71Z"/>
<path class="br" d="M353.2 301.4V297.5H427.8V301.4"/>
<text class="st" x="390.6" y="297.35">****</text>
<path class="br" d="M378 314V309.7H427.8V314"/>
<text class="st" x="402.5" y="309.55">**</text>
<path class="br" d="M402.7 325.7V321.6H427.8V325.7"/>
<text class="st" x="415.3" y="321.45">**</text>
</g>
<g>
<text class="pl" font-size="10.3" transform="translate(4.9 435) scale(0.85 1)">J</text>
<text class="tk" x="29.8" y="511.6">0</text>
<text class="tk" x="29.8" y="496.5">10</text>
<text class="tk" x="29.8" y="481.4">20</text>
<text class="tk" x="29.8" y="466.3">30</text>
<text class="tk" x="29.8" y="451.2">40</text>
<path class="ax" d="M34 449.2V517.6H139.3M30.7 510H34M30.7 494.9H34M30.7 479.8H34M30.7 464.7H34M30.7 449.6H34M50.3 517.6V521.2M74.6 517.6V521.2M98.7 517.6V521.2M122.7 517.6V521.2"/>
<text class="yl" font-size="5.3" transform="translate(13.8 482.6) rotate(-90)">CIITA mRNA</text>
<text class="yl" font-size="5.3" transform="translate(20 482.6) rotate(-90)">relative fold change</text>
<text class="xl" font-size="4.9" transform="translate(52.2 525.4) rotate(-45)">HIV (-)</text>
<text class="xl" font-size="4.9" transform="translate(76.5 525.4) rotate(-45)">HIV (+)</text>
<text class="xl" font-size="4.9" transform="translate(100.6 525.4) rotate(-45)">HIV (+)/HAND</text>
<text class="xl" font-size="4.9" transform="translate(124.6 525.4) rotate(-45)">HIV (+)/HIVE</text>
<path class="eb" d="M50.3 506.68V510.3M46 506.68H54.6M46 510.3H54.6"/>
<path class="mn" d="M41.8 508.49H58.8"/>
<circle cx="46.3" cy="503.51" r="1.49"/><circle cx="53" cy="505.62" r="1.49"/><circle cx="43.7" cy="509.09" r="1.49"/><circle cx="45.7" cy="508.49" r="1.49"/><circle cx="47.7" cy="509.25" r="1.49"/><circle cx="49.7" cy="508.19" r="1.49"/><circle cx="51.7" cy="509.09" r="1.49"/><circle cx="53.7" cy="508.49" r="1.49"/><circle cx="55.7" cy="509.25" r="1.49"/><circle cx="57.7" cy="509.09" r="1.49"/>
<path class="eb" d="M74.6 503.2V510.75M70.3 503.2H78.9M70.3 510.75H78.9"/>
<path class="mn" d="M66.1 506.98H83.1"/>
<rect x="75.93" y="497.61" width="2.74" height="2.74"/><rect x="74.03" y="498.97" width="2.74" height="2.74"/><rect x="66.63" y="504.1" width="2.74" height="2.74"/><rect x="69.23" y="505.61" width="2.74" height="2.74"/><rect x="71.93" y="503.8" width="2.74" height="2.74"/><rect x="74.53" y="505.31" width="2.74" height="2.74"/><rect x="77.23" y="504.1" width="2.74" height="2.74"/><rect x="79.83" y="505.61" width="2.74" height="2.74"/><rect x="66.63" y="507.42" width="2.74" height="2.74"/><rect x="70.53" y="507.72" width="2.74" height="2.74"/><rect x="74.53" y="507.42" width="2.74" height="2.74"/><rect x="78.53" y="508.03" width="2.74" height="2.74"/>
<path class="eb" d="M98.7 501.54V509.55M94.4 501.54H103M94.4 509.55H103"/>
<path class="mn" d="M90.2 505.62H107.2"/>
<path d="M98.7 493.91L100.36 496.9L97.04 496.9Z"/><path d="M92.6 503.12L94.26 506.11L90.94 506.11Z"/><path d="M98.7 503.12L100.36 506.11L97.04 506.11Z"/><path d="M104.5 503.73L106.16 506.72L102.84 506.72Z"/><path d="M92.6 507.35L94.26 510.34L90.94 510.34Z"/><path d="M96.7 507.05L98.36 510.04L95.04 510.04Z"/><path d="M100.7 507.35L102.36 510.34L99.04 510.34Z"/><path d="M104.8 507.05L106.46 510.04L103.14 510.04Z"/><path d="M95.7 505.24L97.36 508.23L94.04 508.23Z"/><path d="M101.7 505.39L103.36 508.38L100.04 508.38Z"/>
<path class="eb" d="M122.7 489.62V507.58M118.4 489.62H127M118.4 507.58H127"/>
<path class="mn" d="M114.2 498.45H131.2"/>
<path d="M122.7 484.48L124.36 486.14L122.7 487.8L121.04 486.14Z"/><path d="M116.1 487.5L117.76 489.16L116.1 490.82L114.44 489.16Z"/><path d="M122.7 488.86L124.36 490.52L122.7 492.18L121.04 490.52Z"/><path d="M122.7 497.92L124.36 499.58L122.7 501.24L121.04 499.58Z"/><path d="M116.1 502.38L117.76 504.04L116.1 505.7L114.44 504.04Z"/><path d="M122.7 502.38L124.36 504.04L122.7 505.7L121.04 504.04Z"/><path d="M129.3 504.72L130.96 506.38L129.3 508.04L127.64 506.38Z"/><path d="M116.1 507.43L117.76 509.09L116.1 510.75L114.44 509.09Z"/>
<path class="br" d="M50.3 457.7V453.9H122.7V457.7"/>
<text class="st" x="86.5" y="453.75">**</text>
<path class="br" d="M74.6 470.2V466.4H122.7V470.2"/>
<text class="st" x="98.7" y="466.25">*</text>
<path class="br" d="M98.7 482.6V478.6H122.7V482.6"/>
<text class="st" x="111.2" y="478.45">*</text>
</g>
<g>
<text class="pl" font-size="10.3" transform="translate(158.2 435.2) scale(0.85 1)">K</text>
<text class="tk" x="178.9" y="510.4">0</text>
<text class="tk" x="178.9" y="495.63">10</text>
<text class="tk" x="178.9" y="480.85">20</text>
<text class="tk" x="178.9" y="466.08">30</text>
<text class="tk" x="178.9" y="451.3">40</text>
<path class="ax" d="M182.7 449.3V515.5H287.6M179.8 508.8H182.7M179.8 494.03H182.7M179.8 479.25H182.7M179.8 464.48H182.7M179.8 449.7H182.7M198.4 515.5V519.1M222.7 515.5V519.1M247.3 515.5V519.1M271.5 515.5V519.1"/>
<text class="yl" font-size="5.2" transform="translate(161.5 482.1) rotate(-90)">CCL8 mRNA</text>
<text class="yl" font-size="5.2" transform="translate(167.7 482.1) rotate(-90)">relative fold change</text>
<text class="xl" font-size="4.6" transform="translate(200.1 522.7) rotate(-45)">HIV (-)</text>
<text class="xl" font-size="4.6" transform="translate(224.4 522.7) rotate(-45)">HIV (+)</text>
<text class="xl" font-size="4.6" transform="translate(249 522.7) rotate(-45)">HIV (+)/HAND</text>
<text class="xl" font-size="4.6" transform="translate(273.2 522.7) rotate(-45)">HIV (+)/HIVE</text>
<path class="eb" d="M198.4 505.55V508.21M194.1 505.55H202.7M194.1 508.21H202.7"/>
<path class="mn" d="M189.9 506.88H206.9"/>
<circle cx="204.2" cy="503.41" r="1.42"/><circle cx="192.3" cy="507.32" r="1.42"/><circle cx="194.1" cy="506.14" r="1.42"/><circle cx="195.9" cy="507.03" r="1.42"/><circle cx="197.7" cy="505.99" r="1.42"/><circle cx="199.5" cy="507.32" r="1.42"/><circle cx="201.3" cy="506.73" r="1.42"/><circle cx="203.1" cy="507.62" r="1.42"/><circle cx="205.2" cy="507.47" r="1.42"/>
<path class="eb" d="M222.7 502.15V508.06M218.4 502.15H227M218.4 508.06H227"/>
<path class="mn" d="M214.2 505.11H231.2"/>
<rect x="221.4" y="497.89" width="2.61" height="2.61"/><rect x="225.6" y="497.89" width="2.61" height="2.61"/><rect x="217.2" y="502.1" width="2.61" height="2.61"/><rect x="221.4" y="501.73" width="2.61" height="2.61"/><rect x="225.6" y="502.1" width="2.61" height="2.61"/><rect x="215" y="503.95" width="2.61" height="2.61"/><rect x="219" y="503.95" width="2.61" height="2.61"/><rect x="223.2" y="504.84" width="2.61" height="2.61"/><rect x="227.8" y="503.95" width="2.61" height="2.61"/><rect x="215" y="506.98" width="2.61" height="2.61"/><rect x="221.4" y="506.98" width="2.61" height="2.61"/><rect x="225.6" y="506.98" width="2.61" height="2.61"/>
<path class="eb" d="M247.3 504.37V508.06M243 504.37H251.6M243 508.06H251.6"/>
<path class="mn" d="M238.8 506.29H255.8"/>
<path d="M247.3 499.9L248.88 502.75L245.72 502.75Z"/><path d="M243.1 503.6L244.68 506.44L241.52 506.44Z"/><path d="M250.4 503.6L251.98 506.44L248.82 506.44Z"/><path d="M241.3 506.11L242.88 508.95L239.72 508.95Z"/><path d="M244.9 505.66L246.48 508.51L243.32 508.51Z"/><path d="M248.6 506.11L250.18 508.95L247.02 508.95Z"/><path d="M252.2 505.66L253.78 508.51L250.62 508.51Z"/><path d="M254 504.63L255.58 507.47L252.42 507.47Z"/>
<path class="eb" d="M271.5 476V499.05M267.2 476H275.8M267.2 499.05H275.8"/>
<path class="mn" d="M263 487.52H280"/>
<path d="M274.7 472.06L276.28 473.64L274.7 475.22L273.12 473.64Z"/><path d="M269.4 474.72L270.98 476.3L269.4 477.88L267.82 476.3Z"/><path d="M274.7 477.37L276.28 478.95L274.7 480.53L273.12 478.95Z"/><path d="M272 481.36L273.58 482.94L272 484.52L270.42 482.94Z"/><path d="M274.7 487.57L276.28 489.15L274.7 490.73L273.12 489.15Z"/><path d="M269.4 490.08L270.98 491.66L269.4 493.24L267.82 491.66Z"/><path d="M272 497.32L273.58 498.9L272 500.48L270.42 498.9Z"/><path d="M272 505.89L273.58 507.47L272 509.05L270.42 507.47Z"/>
<path class="br" d="M198.4 446.6V442.7H271.5V446.6"/>
<text class="st" x="235.2" y="442.55">****</text>
<path class="br" d="M222.7 458.6V454.6H271.5V458.6"/>
<text class="st" x="247.1" y="454.45">****</text>
<path class="br" d="M247.3 470.5V466.5H271.5V470.5"/>
<text class="st" x="259.3" y="466.35">****</text>
</g>
<g>
<text class="pl" font-size="10.3" transform="translate(310.6 434.8) scale(0.78 1)">L</text>
<text class="tk" x="332.5" y="509.9">0</text>
<text class="tk" x="332.5" y="494.98">10</text>
<text class="tk" x="332.5" y="480.05">20</text>
<text class="tk" x="332.5" y="465.13">30</text>
<text class="tk" x="332.5" y="450.2">40</text>
<path class="ax" d="M336.7 448.2V515.4H448.8M333.4 508.3H336.7M333.4 493.38H336.7M333.4 478.45H336.7M333.4 463.53H336.7M333.4 448.6H336.7M353.2 515.4V519M379 515.4V519M405.1 515.4V519M430.9 515.4V519"/>
<text class="yl" font-size="5.2" transform="translate(314.7 481) rotate(-90)">IFI16 mRNA</text>
<text class="yl" font-size="5.2" transform="translate(320.9 481) rotate(-90)">relative fold change</text>
<text class="xl" font-size="5.1" transform="translate(355.1 522.7) rotate(-45)">HIV (-)</text>
<text class="xl" font-size="5.1" transform="translate(380.9 522.7) rotate(-45)">HIV (+)</text>
<text class="xl" font-size="5.1" transform="translate(407 522.7) rotate(-45)">HIV (+)/HAND</text>
<text class="xl" font-size="5.1" transform="translate(432.8 522.7) rotate(-45)">HIV (+)/HIVE</text>
<path class="eb" d="M353.2 505.61V507.4M348.9 505.61H357.5M348.9 507.4H357.5"/>
<path class="mn" d="M344.7 506.51H361.7"/>
<circle cx="345.8" cy="507.4" r="1.46"/><circle cx="347.6" cy="506.21" r="1.46"/><circle cx="349.4" cy="505.02" r="1.46"/><circle cx="351.2" cy="506.81" r="1.46"/><circle cx="353" cy="505.31" r="1.46"/><circle cx="354.8" cy="504.42" r="1.46"/><circle cx="356.6" cy="506.21" r="1.46"/><circle cx="358.4" cy="507.11" r="1.46"/><circle cx="360.4" cy="507.4" r="1.46"/>
<path class="eb" d="M379 504.12V506.51M374.7 504.12H383.3M374.7 506.51H383.3"/>
<path class="mn" d="M370.5 505.31H387.5"/>
<rect x="370.66" y="501.89" width="2.67" height="2.67"/><rect x="370.66" y="504.58" width="2.67" height="2.67"/><rect x="372.66" y="502.78" width="2.67" height="2.67"/><rect x="374.66" y="503.38" width="2.67" height="2.67"/><rect x="376.66" y="503.98" width="2.67" height="2.67"/><rect x="378.66" y="503.68" width="2.67" height="2.67"/><rect x="380.66" y="504.87" width="2.67" height="2.67"/><rect x="382.66" y="504.28" width="2.67" height="2.67"/><rect x="384.66" y="504.58" width="2.67" height="2.67"/>
<path class="eb" d="M405.1 499.2V506.51M400.8 499.2H409.4M400.8 506.51H409.4"/>
<path class="mn" d="M396.6 502.63H413.6"/>
<path d="M401.5 494.06L403.12 496.98L399.88 496.98Z"/><path d="M408.2 496.75L409.82 499.66L406.58 499.66Z"/><path d="M398.4 499.88L400.02 502.8L396.78 502.8Z"/><path d="M404.7 499.73L406.32 502.65L403.08 502.65Z"/><path d="M397.4 504.06L399.02 506.98L395.78 506.98Z"/><path d="M401.5 503.02L403.12 505.93L399.88 505.93Z"/><path d="M404.7 503.61L406.32 506.53L403.08 506.53Z"/><path d="M408.2 503.02L409.82 505.93L406.58 505.93Z"/><path d="M412.4 501.97L414.02 504.89L410.78 504.89Z"/><path d="M412.4 504.51L414.02 507.43L410.78 507.43Z"/>
<path class="eb" d="M430.9 474.87V507.85M426.6 474.87H435.2M426.6 507.85H435.2"/>
<path class="mn" d="M422.4 491.58H439.4"/>
<circle cx="430.9" cy="459.35" r="1.46"/><circle cx="430.9" cy="469.79" r="1.46"/><circle cx="430.9" cy="483.38" r="1.46"/><circle cx="424.2" cy="499.49" r="1.46"/><circle cx="428.8" cy="501.14" r="1.46"/><circle cx="433.4" cy="499.05" r="1.46"/><circle cx="424.2" cy="504.27" r="1.46"/><circle cx="431.9" cy="503.67" r="1.46"/><circle cx="437.2" cy="503.08" r="1.46"/>
<path class="br" d="M353.2 432V428.2H430.9V432"/>
<text class="st" x="392.2" y="428.05">**</text>
<path class="br" d="M379 444.5V440.1H430.9V444.5"/>
<text class="st" x="405.2" y="439.95">**</text>
<path class="br" d="M405.1 455.9V451.5H430.9V455.9"/>
<text class="st" x="417.9" y="451.35">*</text>
</g>
</svg>
</body></html>
